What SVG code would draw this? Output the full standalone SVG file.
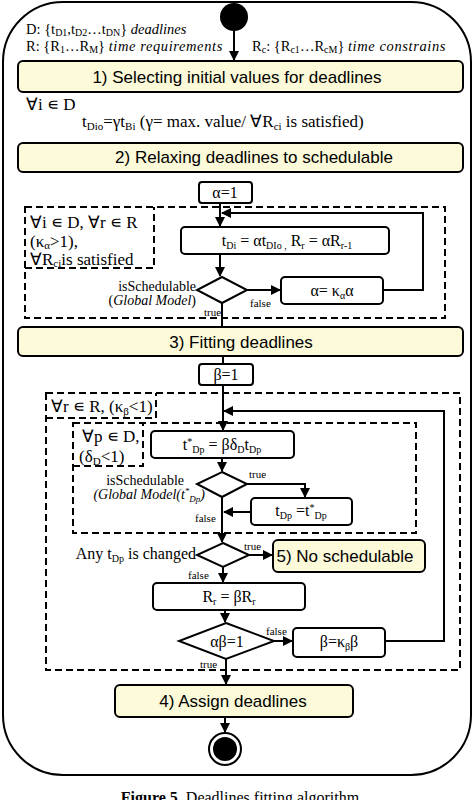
<svg xmlns="http://www.w3.org/2000/svg" width="474" height="800" viewBox="0 0 474 800">
<style>
.frame{fill:#fff;stroke:#000;stroke-width:2}
.y{fill:#FCFAD8;stroke:#000;stroke-width:2}
.w{fill:#fff;stroke:#000;stroke-width:2}
.d{fill:none;stroke:#000;stroke-width:2;stroke-dasharray:7 4}
.ln{fill:none;stroke:#000;stroke-width:2}
.a{font-family:"Liberation Sans",Arial,sans-serif;font-size:17px;fill:#000}
.t{font-family:"Liberation Serif","Times New Roman",serif;font-size:16px;fill:#000}
.t17{font-family:"Liberation Serif","Times New Roman",serif;font-size:17px;fill:#000}
.s{font-family:"Liberation Serif","Times New Roman",serif;font-size:14px;fill:#000}
.h{font-family:"Liberation Serif","Times New Roman",serif;font-size:14.5px;fill:#000}
.sm{font-family:"Liberation Serif","Times New Roman",serif;font-size:11px;fill:#000}
.i{font-style:italic}
</style>
<defs>
<marker id="ah" markerWidth="10" markerHeight="10" refX="9" refY="5" orient="auto" markerUnits="userSpaceOnUse">
<path d="M0,0 L10,5 L0,10 z" fill="#000"/>
</marker>
</defs>
<rect width="474" height="800" fill="#fff"/>
<rect id="frame" class="frame" x="3" y="2" width="468" height="773" rx="60" ry="60"/>

<g id="start"><circle cx="234" cy="17" r="14" fill="#000"/></g>

<g id="header-texts">
<text class="h" x="26" y="34">D: {t<tspan font-size="10" dy="2">D1</tspan><tspan dy="-2">,t</tspan><tspan font-size="10" dy="2">D2</tspan><tspan dy="-2">…t</tspan><tspan font-size="10" dy="2">DN</tspan><tspan dy="-2">} </tspan><tspan class="i">deadlines</tspan></text>
<text class="h" x="26" y="51">R: {R<tspan font-size="10" dy="2">1</tspan><tspan dy="-2">…R</tspan><tspan font-size="10" dy="2">M</tspan><tspan dy="-2">} </tspan><tspan class="i" letter-spacing="0.6">time requirements</tspan></text>
<text class="h" x="252" y="51">R<tspan font-size="10" dy="2">c</tspan><tspan dy="-2">: {R</tspan><tspan font-size="10" dy="2">c1</tspan><tspan dy="-2">…R</tspan><tspan font-size="10" dy="2">cM</tspan><tspan dy="-2">} </tspan><tspan class="i" letter-spacing="0.6">time constrains</tspan></text>
</g>

<g id="step1">
<rect class="y" x="18" y="61" width="445" height="31" rx="5"/>
<text class="a" x="237" y="83" text-anchor="middle" font-size="17.5">1) Selecting initial values for deadlines</text>
</g>
<g id="step1-texts">
<text class="t17" x="26" y="110">∀i ∊ D</text>
<text class="t17" x="82" y="127">t<tspan font-size="11" dy="3">Dio</tspan><tspan dy="-3">=γt</tspan><tspan font-size="11" dy="3">Bi</tspan><tspan dy="-3">  (γ= max. value/ ∀R</tspan><tspan font-size="11" dy="3">ci</tspan><tspan dy="-3"> is satisfied)</tspan></text>
</g>

<g id="step2">
<rect class="y" x="18" y="143" width="445" height="29" rx="5"/>
<text class="a" x="254" y="163" text-anchor="middle" font-size="15.5">2) Relaxing deadlines to schedulable</text>
</g>

<g id="alpha1">
<rect class="w" x="199" y="182" width="53" height="21" rx="3"/>
<text class="t" x="225" y="198" text-anchor="middle">α=1</text>
</g>

<g id="loop1-box">
<rect class="d" x="25" y="207" width="420" height="111"/>
<path class="d" d="M25,268 H154 V207"/>
<text class="t17" x="30" y="228">∀i ∊ D, ∀r ∊  R</text>
<text class="t17" x="30" y="247">(κ<tspan font-size="11" dy="2">α</tspan><tspan dy="-2">&gt;1),</tspan></text>
<text class="t17" x="30" y="265">∀R<tspan font-size="11" dy="2">ci</tspan><tspan dy="-2">is satisfied</tspan></text>
</g>

<g id="tdi">
<rect class="w" x="181" y="227" width="208" height="27" rx="4"/>
<text class="t" x="287" y="246" text-anchor="middle">t<tspan font-size="10" dy="3">Di</tspan><tspan dy="-3"> = αt</tspan><tspan font-size="10" dy="3">DIo ,</tspan><tspan dy="-3"> R</tspan><tspan font-size="10" dy="3">r</tspan><tspan dy="-3"> = αR</tspan><tspan font-size="10" dy="3">r-1</tspan></text>
</g>

<g id="dec1">
<path class="w" d="M222,277 L247,290 L222,303 L197,290 z"/>
<text class="s" x="196" y="291" text-anchor="end">isSchedulable</text>
<text class="s" x="196" y="305" text-anchor="end">(<tspan class="i">Global Model</tspan>)</text>
</g>

<g id="kalpha">
<rect class="w" x="281" y="277" width="102" height="27" rx="4"/>
<text class="t" x="332" y="296" text-anchor="middle">α= κ<tspan font-size="10" dy="3">α</tspan><tspan dy="-3">α</tspan></text>
</g>

<g id="step3">
<rect class="y" x="18" y="327" width="445" height="29" rx="5"/>
<text class="a" x="241" y="348" text-anchor="middle">3) Fitting deadlines</text>
</g>

<g id="beta1">
<rect class="w" x="199" y="364" width="54" height="21" rx="3"/>
<text class="t" x="226" y="380" text-anchor="middle">β=1</text>
</g>

<g id="loop2-box">
<rect class="d" x="46" y="393" width="414" height="277"/>
<path class="d" d="M46,418 H156 V393"/>
<text class="t17" x="51" y="412">∀r ∊  R, (κ<tspan font-size="11" dy="3">β</tspan><tspan dy="-3">&lt;1)</tspan></text>
</g>

<g id="loop3-box">
<rect class="d" x="73" y="423" width="343" height="110"/>
<path class="d" d="M73,466 H143 V423"/>
<text class="t17" x="82" y="442">∀p ∊ D,</text>
<text class="t17" x="79" y="462">(δ<tspan font-size="11" dy="3">D</tspan><tspan dy="-3">&lt;1)</tspan></text>
</g>

<g id="tstar">
<rect class="w" x="151" y="431" width="143" height="27" rx="4"/>
<text class="t" x="222" y="450" text-anchor="middle">t<tspan font-size="10" dy="-5">*</tspan><tspan font-size="10" dy="8">Dp</tspan><tspan dy="-3"> = βδ</tspan><tspan font-size="10" dy="3">D</tspan><tspan dy="-3">t</tspan><tspan font-size="10" dy="3">Dp</tspan></text>
</g>

<g id="dec2">
<path class="w" d="M222,472 L247,484 L222,497 L197,484 z"/>
<text class="s" x="184" y="485" text-anchor="end">isSchedulable</text>
<text class="s i" x="205" y="499" text-anchor="end">(Global Model(t<tspan font-size="9" dy="-5">*</tspan><tspan font-size="9" dy="8">Dp</tspan><tspan dy="-3">)</tspan></text>
</g>

<g id="tdp">
<rect class="w" x="251" y="498" width="101" height="27" rx="4"/>
<text class="t" x="301" y="516" text-anchor="middle">t<tspan font-size="10" dy="3">Dp</tspan><tspan dy="-3"> =t</tspan><tspan font-size="10" dy="-5">*</tspan><tspan font-size="10" dy="8">Dp</tspan></text>
</g>

<g id="dec3">
<path class="w" d="M223,543 L249,555 L223,567 L197,555 z"/>
<text class="t" x="196" y="559" text-anchor="end" font-size="15">Any t<tspan font-size="10" dy="3">Dp</tspan><tspan dy="-3"> is changed</tspan></text>
</g>

<g id="step5">
<rect class="y" x="273" y="540" width="152" height="32" rx="5"/>
<text class="a" x="345" y="562" text-anchor="middle" font-size="17.5">5) No schedulable</text>
</g>

<g id="rr">
<rect class="w" x="153" y="583" width="152" height="27" rx="4"/>
<text class="t" x="229" y="602" text-anchor="middle">R<tspan font-size="10" dy="3">r</tspan><tspan dy="-3"> = βR</tspan><tspan font-size="10" dy="3">r</tspan></text>
</g>

<g id="dec4">
<path class="w" d="M226,623 L274,641 L226,659 L179,641 z"/>
<text class="t" x="227" y="647" text-anchor="middle">αβ=1</text>
</g>

<g id="kbeta">
<rect class="w" x="293" y="628" width="92" height="29" rx="4"/>
<text class="t" x="339" y="647" text-anchor="middle">β=κ<tspan font-size="10" dy="3">β</tspan><tspan dy="-3">β</tspan></text>
</g>

<g id="step4">
<rect class="y" x="115" y="685" width="238" height="32" rx="5"/>
<text class="a" x="233" y="707" text-anchor="middle" font-size="17.3">4) Assign deadlines</text>
</g>

<g id="end">
<circle cx="225" cy="749" r="16" fill="#fff" stroke="#000" stroke-width="2"/>
<circle cx="225" cy="749" r="12" fill="#000"/>
</g>

<g id="connectors">
<path class="ln" d="M234,31 V60" marker-end="url(#ah)"/>
<path class="ln" d="M220,203 V226" marker-end="url(#ah)"/>
<path class="ln" d="M220,254 V276" marker-end="url(#ah)"/>
<path class="ln" d="M247,290 H280" marker-end="url(#ah)"/>
<path class="ln" d="M383,290 H423 V213 H222" marker-end="url(#ah)"/>
<path class="ln" d="M222,303 V327"/>
<path class="ln" d="M223,356 V364"/>
<path class="ln" d="M223,385 V430" marker-end="url(#ah)"/>
<path class="ln" d="M222,458 V471" marker-end="url(#ah)"/>
<path class="ln" d="M247,484 H305 V497" marker-end="url(#ah)"/>
<path class="ln" d="M251,512 H224" marker-end="url(#ah)"/>
<path class="ln" d="M222,497 V542" marker-end="url(#ah)"/>
<path class="ln" d="M249,555 H272" marker-end="url(#ah)"/>
<path class="ln" d="M223,567 V582" marker-end="url(#ah)"/>
<path class="ln" d="M225,610 V622" marker-end="url(#ah)"/>
<path class="ln" d="M274,641 H292" marker-end="url(#ah)"/>
<path class="ln" d="M385,641 H444 V411 H224" marker-end="url(#ah)"/>
<path class="ln" d="M226,659 V684" marker-end="url(#ah)"/>
<path class="ln" d="M225,717 V732" marker-end="url(#ah)"/>
</g>

<g id="labels">
<text class="sm" x="250" y="307">false</text>
<text class="sm" x="204" y="316">true</text>
<text class="sm" x="249" y="478">true</text>
<text class="sm" x="195" y="522">false</text>
<text class="sm" x="244" y="550">true</text>
<text class="sm" x="188" y="579">false</text>
<text class="sm" x="266" y="635">false</text>
<text class="sm" x="200" y="668">true</text>
</g>

<text class="t" x="240" y="803" text-anchor="middle" font-size="20"><tspan font-weight="bold">Figure 5.</tspan> Deadlines fitting algorithm</text>
</svg>
